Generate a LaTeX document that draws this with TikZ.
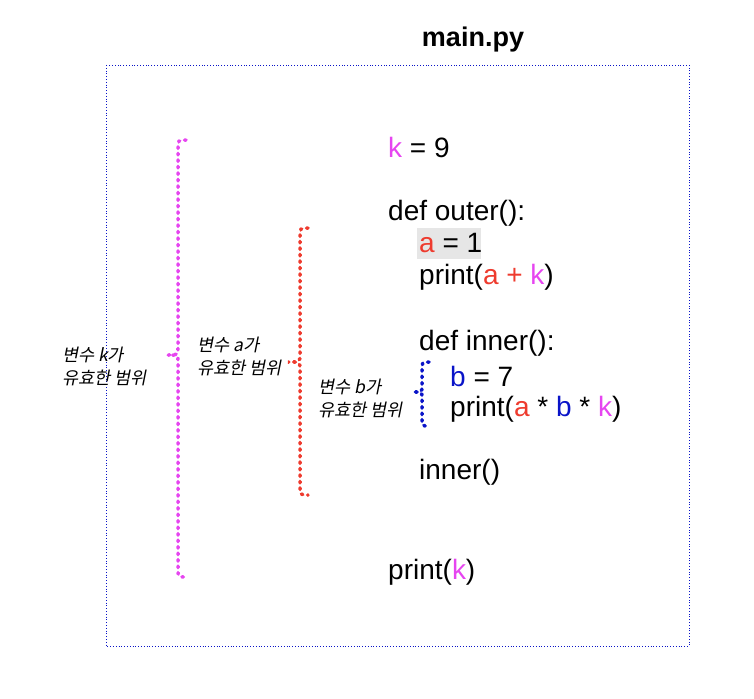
\documentclass[tikz,border=0pt]{standalone}
\usepackage{fontspec}
\setmainfont{Liberation Sans}
\newfontfamily\kr[FakeSlant=0.2]{Noto Sans CJK KR}
\definecolor{mg}{HTML}{E645F0}
\definecolor{rd}{HTML}{EE3B2E}
\definecolor{bl}{HTML}{0A14C8}
\definecolor{hl}{HTML}{E6E6E6}
\tikzset{code/.style={anchor=west,inner sep=0pt,font=\fontsize{28}{32}\selectfont},
lbl/.style={align=left,anchor=west,inner sep=0pt,font=\kr\fontsize{17.5}{23}\selectfont},
brc/.style={line width=3.5pt,dash pattern=on 1.5pt off 5pt,line cap=round}}
\newcommand{\K}{\textcolor{mg}{k}}
\newcommand{\A}{\textcolor{rd}{a}}
\newcommand{\B}{\textcolor{bl}{b}}
\begin{document}
\begin{tikzpicture}[x=1pt,y=-1pt]
\useasboundingbox (0,0) rectangle (754,698);
\node[font=\bfseries\fontsize{27}{30}\selectfont] (title) at (473,40) {main.py};
\draw[bl,dotted,line width=0.8pt] (106,65) rectangle (689,646);
\fill[hl] (417,228) rectangle (481,259);
\node[code] (l1) at (388,147) {\K{} = 9};
\node[code] (l2) at (388,213) {def outer():};
\node[code] (l3) at (419,243) {\A{} = 1};
\node[code] (l4) at (419,277) {print(\A{} \textcolor{rd}{+} \K)};
\node[code] (l5) at (419,343) {def inner():};
\node[code] (l6) at (450,376) {\B{} = 7};
\node[code] (l7) at (450,409) {print(\A{} * \B{} * \K)};
\node[code] (l8) at (419,472) {inner()};
\node[code] (l9) at (388,572) {print(\K)};
\draw[brc,mg] (186,140) .. controls (178,140) .. (178,150) -- (178,347) .. controls (178,355) .. (168,355) .. controls (178,355) .. (178,363) -- (178,568) .. controls (178,577) .. (186,577);
\draw[brc,rd] (308,228) .. controls (300,228) .. (300,238) -- (300,354) .. controls (300,362) .. (288,362) .. controls (300,362) .. (300,370) -- (300,486) .. controls (300,495) .. (308,495);
\draw[brc,bl] (429,362) .. controls (422,362) .. (422,370) -- (422,386) .. controls (422,392) .. (413,392) .. controls (422,392) .. (422,398) -- (422,418) .. controls (422,426) .. (429,426);
\node[lbl] (lk) at (62,366) {변수 k가\\유효한 범위};
\node[lbl] (la) at (197,356) {변수 a가\\유효한 범위};
\node[lbl] (lb) at (318,398) {변수 b가\\유효한 범위};
\end{tikzpicture}
\end{document}
